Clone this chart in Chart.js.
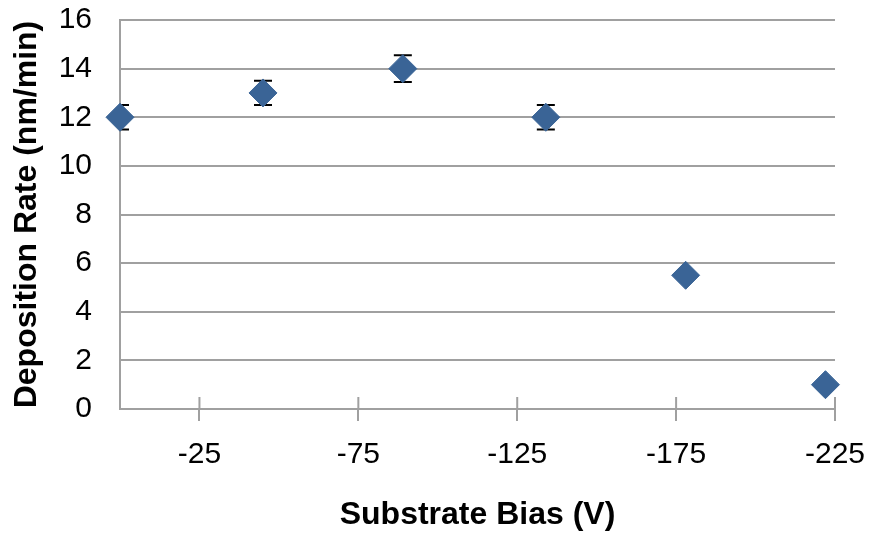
<!DOCTYPE html>
<html>
<head>
<meta charset="utf-8">
<script src="https://cdn.jsdelivr.net/npm/chart.js@4.4.1/dist/chart.umd.min.js"></script>
<style>
  html, body { margin: 0; padding: 0; background: #fff; }
  #wrap { width: 888px; height: 540px; position: relative; }
</style>
</head>
<body>
<div id="wrap"><canvas id="rate"></canvas></div>
<script>
const biasVolts = [0, -45, -89, -134, -178, -222];
const depRate = [12, 13, 14, 12, 5.5, 1];
const rateErr = [0.5, 0.5, 0.55, 0.5, 0, 0];
const xTickValues = [-25, -75, -125, -175, -225];

const gridGray = '#a0a0a0';
const markerBlue = '#3a6496';

// error bars (clipped to plot area) + inner half of the x tick marks
const errorBars = {
    id: 'errorBars',
    beforeDatasetsDraw(chart) {
        const ctx = chart.ctx;
        const xs = chart.scales.x;
        const ys = chart.scales.y;
        const area = chart.chartArea;
        ctx.save();
        ctx.strokeStyle = gridGray;
        ctx.lineWidth = 2;
        xTickValues.forEach(v => {
            const px = xs.getPixelForValue(v);
            ctx.beginPath();
            ctx.moveTo(px, ys.bottom);
            ctx.lineTo(px, ys.bottom - 12);
            ctx.stroke();
        });
        ctx.beginPath();
        ctx.rect(area.left, area.top - 20, area.right - area.left, area.bottom - area.top + 20);
        ctx.clip();
        ctx.strokeStyle = '#000';
        ctx.lineWidth = 2;
        biasVolts.forEach((b, i) => {
            if (!rateErr[i]) return;
            const px = xs.getPixelForValue(b);
            const hi = ys.getPixelForValue(depRate[i] + rateErr[i]);
            const lo = ys.getPixelForValue(depRate[i] - rateErr[i]);
            ctx.beginPath();
            ctx.moveTo(px, hi); ctx.lineTo(px, lo);
            ctx.moveTo(px - 9, hi); ctx.lineTo(px + 9, hi);
            ctx.moveTo(px - 9, lo); ctx.lineTo(px + 9, lo);
            ctx.stroke();
        });
        ctx.restore();
    }
};

new Chart(document.getElementById('rate'), {
    type: 'scatter',
    data: {
        datasets: [{
            label: 'Deposition Rate',
            data: biasVolts.map((b, i) => ({ x: b, y: depRate[i] })),
            pointStyle: 'rectRot',
            pointRadius: 14,
            pointHoverRadius: 14,
            backgroundColor: markerBlue,
            borderColor: markerBlue,
            borderWidth: 1,
            clip: false
        }]
    },
    options: {
        responsive: true,
        maintainAspectRatio: false,
        animation: false,
        events: [],
        layout: { padding: { top: 20, right: 53, left: 0, bottom: 0 } },
        plugins: {
            legend: { display: false },
            tooltip: { enabled: false }
        },
        scales: {
            x: {
                type: 'linear',
                min: -225,
                max: 0,
                reverse: true,
                afterBuildTicks: s => { s.ticks = xTickValues.map(v => ({ value: v })); },
                afterFit: s => { s.height = 131; s.paddingLeft = 0; s.paddingRight = 0; },
                grid: { drawOnChartArea: false, drawTicks: true, tickLength: 12, color: gridGray, lineWidth: 2 },
                border: { color: gridGray, width: 2 },
                ticks: {
                    padding: 16,
                    color: '#000',
                    maxRotation: 0,
                    font: { family: 'Liberation Sans', size: 30 }
                },
                title: {
                    display: true,
                    text: 'Substrate Bias (V)',
                    color: '#000',
                    padding: 6,
                    font: { family: 'Liberation Sans', size: 32, weight: 'bold' }
                }
            },
            y: {
                min: 0,
                max: 16,
                afterFit: s => { s.width = 120; s.paddingTop = 0; s.paddingBottom = 0; },
                grid: { drawTicks: false, color: gridGray, lineWidth: 2 },
                border: { color: gridGray, width: 2 },
                ticks: {
                    stepSize: 2,
                    padding: 28,
                    color: '#000',
                    font: { family: 'Liberation Sans', size: 30 }
                },
                title: {
                    display: true,
                    text: 'Deposition Rate (nm/min)',
                    color: '#000',
                    padding: 8,
                    font: { family: 'Liberation Sans', size: 32, weight: 'bold' }
                }
            }
        }
    },
    plugins: [errorBars]
});
</script>
</body>
</html>
